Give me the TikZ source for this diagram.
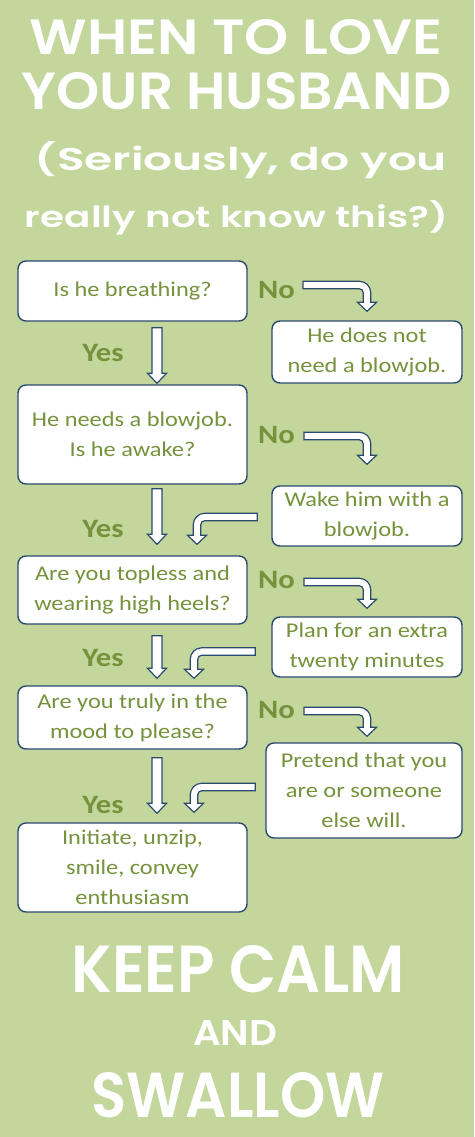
\documentclass[tikz,border=0pt]{standalone}
\usepackage{fontspec}
\usepackage{graphicx}
\usetikzlibrary{calc}
\newfontfamily\boxfont{Carlito}[FakeStretch=1.16]
\newfontfamily\titlefont{Poppins}[BoldFont={Poppins SemiBold}]
\definecolor{bg}{HTML}{C3D69B}
\definecolor{olive}{HTML}{76923C}
\definecolor{navy}{HTML}{2B4A6F}
\tikzset{
  box/.style={draw=navy, line width=1.4pt, fill=white, rounded corners=8pt, text=olive,
    font=\boxfont\fontsize{21}{30}\selectfont, align=center, inner sep=0pt},
  yn/.style={text=olive, font=\boxfont\bfseries\fontsize{26.5}{30}\selectfont, anchor=base, inner sep=0pt},
  blockarrow/.style={draw=navy, line width=1.2pt, fill=white, line join=miter},
  title/.style={text=white, anchor=base, inner sep=0pt},
}
\newcommand\yesarr[2]{%
  \draw[blockarrow] let \p1=(#1), \p2=(#2) in
  ({\x1-5pt},\y1) -- ({\x1+5pt},\y1) -- ({\x1+5pt},{\y2+10pt}) -- ({\x1+9.5pt},{\y2+10pt})
  -- (\x1,\y2) -- ({\x1-9.5pt},{\y2+10pt}) -- ({\x1-5pt},{\y2+10pt}) -- cycle;}
\newcommand\noarr[2]{%
  \draw[blockarrow] let \p1=(#1), \p2=(#2) in
  (\x1,{\y1+3.75pt}) -- ({\x2+3.75pt-11.5pt},{\y1+3.75pt})
  arc[start angle=90,end angle=0,radius=11.5pt]
  -- ({\x2+3.75pt},{\y2+9pt}) -- ({\x2+9.5pt},{\y2+9pt}) -- (\x2,\y2)
  -- ({\x2-9.5pt},{\y2+9pt}) -- ({\x2-3.75pt},{\y2+9pt}) -- ({\x2-3.75pt},{\y1-7.75pt})
  arc[start angle=0,end angle=90,radius=4pt] -- (\x1,{\y1-3.75pt}) -- cycle;}
\newcommand\retarr[2]{%
  \draw[blockarrow] let \p1=(#1), \p2=(#2) in
  (\x1,{\y1+3.75pt}) -- ({\x2-3.75pt+11.5pt},{\y1+3.75pt})
  arc[start angle=90,end angle=180,radius=11.5pt]
  -- ({\x2-3.75pt},{\y2+9pt}) -- ({\x2-9.5pt},{\y2+9pt}) -- (\x2,\y2)
  -- ({\x2+9.5pt},{\y2+9pt}) -- ({\x2+3.75pt},{\y2+9pt}) -- ({\x2+3.75pt},{\y1-7.75pt})
  arc[start angle=180,end angle=90,radius=4pt] -- (\x1,{\y1-3.75pt}) -- cycle;}
\begin{document}
\begin{tikzpicture}[x=1pt,y=1pt]
\fill[bg] (0,0) rectangle (474,-1137);
\useasboundingbox (0,0) rectangle (474,-1137);
% titles
\node[title] (t1) at (236,-55) {\resizebox{412pt}{35pt}{\titlefont\bfseries WHEN TO LOVE}};
\node[title] (t2) at (237,-110) {\resizebox{430pt}{37pt}{\titlefont\bfseries YOUR HUSBAND}};
\node[title] (t3) at (241,-171) {\resizebox{412pt}{29pt}{\titlefont\bfseries (Seriously, do you}};
\node[title] (t4) at (236.5,-227) {\resizebox{423pt}{27pt}{\titlefont\bfseries really not know this?)}};
\node[title] (k1) at (238,-992) {\resizebox{333pt}{47pt}{\titlefont\bfseries KEEP CALM}};
\node[title] (k2) at (235,-1045) {\resizebox{84pt}{25pt}{\titlefont\bfseries AND}};
\node[title] (k3) at (238,-1117) {\resizebox{293pt}{45pt}{\titlefont\bfseries SWALLOW}};
% boxes
\node[box, minimum width=229pt, minimum height=60pt] (q1) at (132.5,-291) {Is he breathing?};
\node[box, minimum width=190pt, minimum height=62pt] (r1) at (367,-352) {He does not\\need a blowjob.};
\node[box, minimum width=229pt, minimum height=99pt] (q2) at (132.5,-434.5) {He needs a blowjob.\\Is he awake?};
\node[box, minimum width=190pt, minimum height=60pt] (r2) at (367,-516) {Wake him with a\\blowjob.};
\node[box, minimum width=229pt, minimum height=68pt] (q3) at (132.5,-590) {Are you topless and\\wearing high heels?};
\node[box, minimum width=190pt, minimum height=60pt] (r3) at (367,-647) {Plan for an extra\\twenty minutes};
\node[box, minimum width=229pt, minimum height=63pt] (q4) at (132.5,-717.5) {Are you truly in the\\mood to please?};
\node[box, minimum width=196pt, minimum height=95pt] (r4) at (364,-790.5) {Pretend that you\\are or someone\\else will.};
\node[box, minimum width=229pt, minimum height=89pt] (q5) at (132.5,-867.5) {Initiate, unzip,\\smile, convey\\enthusiasm};
% labels
\node[yn] (n1) at (276.5,-298) {No};
\node[yn] (n2) at (276.5,-443) {No};
\node[yn] (n3) at (276.5,-588) {No};
\node[yn] (n4) at (276.5,-718) {No};
\node[yn] (y1) at (103,-361) {Yes};
\node[yn] (y2) at (103,-537) {Yes};
\node[yn] (y3) at (103,-666) {Yes};
\node[yn] (y4) at (103,-813) {Yes};
% arrow end points
\coordinate (ya1) at ($(q1.south)+(24.5,-6)$);  \coordinate (yb1) at ($(q2.north)+(24.5,1)$);
\coordinate (ya2) at ($(q2.south)+(24.5,-4)$);  \coordinate (yb2) at ($(q3.north)+(24.5,11)$);
\coordinate (ya3) at ($(q3.south)+(24.5,-11)$); \coordinate (yb3) at ($(q4.north)+(24.5,7)$);
\coordinate (ya4) at ($(q4.south)+(24.5,-8)$);  \coordinate (yb4) at ($(q5.north)+(24.5,9)$);
\coordinate (na1) at (303,-285); \coordinate (nb1) at ($(r1.north)+(0,9)$);
\coordinate (na2) at (304,-436); \coordinate (nb2) at ($(r2.north)+(0,21)$);
\coordinate (na3) at (304,-582); \coordinate (nb3) at ($(r3.north)+(0,8)$);
\coordinate (na4) at (304,-711); \coordinate (nb4) at ($(r4.north)+(3,6)$);
\coordinate (ra1) at ($(r2.west)+(-14,-1)$);   \coordinate (rb1) at ($(q3.north)+(64.5,11)$);
\coordinate (ra2) at ($(r3.west)+(-16,-4.5)$); \coordinate (rb2) at ($(q4.north)+(61.5,7)$);
\coordinate (ra3) at ($(r4.west)+(-10,3.5)$);  \coordinate (rb3) at ($(q5.north)+(61.5,10)$);
% arrows
\yesarr{ya1}{yb1} \yesarr{ya2}{yb2} \yesarr{ya3}{yb3} \yesarr{ya4}{yb4}
\noarr{na1}{nb1} \noarr{na2}{nb2} \noarr{na3}{nb3} \noarr{na4}{nb4}
\retarr{ra1}{rb1} \retarr{ra2}{rb2} \retarr{ra3}{rb3}
\end{tikzpicture}
\end{document}
